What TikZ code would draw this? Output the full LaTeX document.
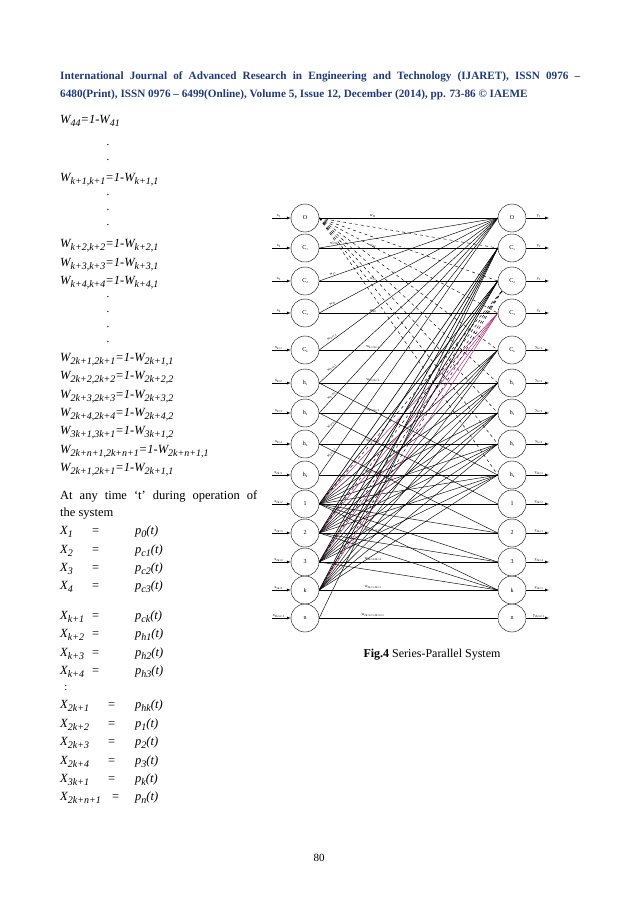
\documentclass[tikz,border=0pt]{standalone}
\usepackage{fontspec}
\setmainfont{Liberation Serif}
\newcommand{\mysub}[1]{\raisebox{-3pt}{\fontsize{10}{10}\selectfont #1}}
\newcommand{\tsub}[1]{\raisebox{-1pt}{\fontsize{3}{3}\selectfont #1}}
\begin{document}
\begin{tikzpicture}[x=1pt,y=-1pt,
 nd/.style={circle,draw,minimum size=28pt,inner sep=0pt,font=\fontsize{6}{6}\selectfont},
 tiny/.style={font=\fontsize{4}{4}\selectfont,inner sep=0.5pt},
 eq/.style={anchor=west,inner sep=0pt,font=\fontsize{12.5}{14}\selectfont\itshape},
 dotn/.style={inner sep=0pt,font=\fontsize{11}{11}\selectfont},
 ln/.style={line width=0.45pt},
 arr/.style={-latex,line width=0.4pt}]
\useasboundingbox (0,0) rectangle (638,903);
\definecolor{hdr}{HTML}{1F3A7A}
\definecolor{mag}{HTML}{B0307A}
% header
\node[anchor=north west,inner sep=0pt,text width=520pt,align=justify,text=hdr,font=\fontsize{11.2}{18}\selectfont\bfseries] (hd) at (60,71)
{International Journal of Advanced Research in Engineering and Technology (IJARET), ISSN 0976 –\linebreak 6480(Print), ISSN 0976 – 6499(Online), Volume 5, Issue 12, December (2014), pp. 73-86 © IAEME};
% equations
\node[eq] (e1) at (60,121) {W\mysub{44}=1-W\mysub{41}};
\foreach \y [count=\i] in {148,163,198,213,228,300,315,330,345}{\node[dotn] (d\i) at (108,\y-3) {.};}
\node[eq] (e2) at (60,180) {W\mysub{k+1,k+1}=1-W\mysub{k+1,1}};
\node[eq] (e3) at (60,246) {W\mysub{k+2,k+2}=1-W\mysub{k+2,1}};
\node[eq] (e4) at (60,265) {W\mysub{k+3,k+3}=1-W\mysub{k+3,1}};
\node[eq] (e5) at (60,283) {W\mysub{k+4,k+4}=1-W\mysub{k+4,1}};
\node[eq] (e6) at (60,360) {W\mysub{2k+1,2k+1}=1-W\mysub{2k+1,1}};
\node[eq] (e7) at (60,378) {W\mysub{2k+2,2k+2}=1-W\mysub{2k+2,2}};
\node[eq] (e8) at (60,397) {W\mysub{2k+3,2k+3}=1-W\mysub{2k+3,2}};
\node[eq] (e9) at (60,415) {W\mysub{2k+4,2k+4}=1-W\mysub{2k+4,2}};
\node[eq] (e10) at (60,433) {W\mysub{3k+1,3k+1}=1-W\mysub{3k+1,2}};
\node[eq] (e11) at (60,452) {W\mysub{2k+n+1,2k+n+1}=1-W\mysub{2k+n+1,1}};
\node[eq] (e12) at (60,470) {W\mysub{2k+1,2k+1}=1-W\mysub{2k+1,1}};
\node[anchor=north west,inner sep=0pt,text width=197pt,align=justify,font=\fontsize{12.5}{17}\selectfont] (at) at (60,490) {At any time ‘t’ during operation of\linebreak the system};
\foreach \y/\a/\b [count=\i] in {532/1/0, 551/2/c1, 569/3/c2, 587/4/c3, 617/k+1/ck, 635/k+2/h1, 654/k+3/h2, 672/k+4/h3, 706/2k+1/hk, 725/2k+2/1, 743/2k+3/2, 762/2k+4/3, 780/3k+1/k, 798/2k+n+1/n}{
 \node[eq] (x\i) at (60,\y) {X\mysub{\a}};
 \node[eq] (p\i) at (135,\y) {p\mysub{\b}(t)};}
\foreach \y [count=\i] in {532,551,569,587,617,635,654,672}{\node[eq,font=\fontsize{12.5}{14}\selectfont] (eq\i) at (92,\y) {=};}
\foreach \y [count=\i] in {706,725,743,762,780}{\node[eq,font=\fontsize{12.5}{14}\selectfont] (eqb\i) at (108,\y) {=};}
\node[eq,font=\fontsize{12.5}{14}\selectfont] (eqn) at (112,798) {=};
\node[dotn] (colon) at (66,688) {:};
\node[font=\fontsize{11}{11}\selectfont] (pg) at (319,858) {80};
\node[font=\fontsize{12}{12}\selectfont] (cap) at (432,655) {\textbf{Fig.4} Series-Parallel System};
% diagram
\def\ys{218,248,281,313,350,383,413,444,475,504,533,562,590,618}
\foreach \t/\xi/\yi [count=\i from 0] in {O/1/1, C\tsub{1}/2/2, C\tsub{2}/3/3, C\tsub{3}/4/4, C\tsub{k}/k+1/k+1, h\tsub{1}/k+2/k+2, h\tsub{2}/k+3/k+3, h\tsub{3}/k+4/k+4, h\tsub{k}/2k+1/2k+1, 1/2k+2/2k+2, 2/2k+3/2k+3, 3/2k+4/2k+4, k/3k+1/3k+1, n/2k+n+1/2k+n+1}{
 \pgfmathsetmacro{\yy}{{\ys}[\i]}
 \node[nd] (L\i) at (305,\yy) {\t};
 \node[nd] (R\i) at (512,\yy) {\t};
 \coordinate (I\i) at (272,\yy);
 \coordinate (O\i) at (549,\yy);
 \draw[arr] (I\i) -- node[tiny,above,pos=0.35] {x\tsub{\xi}} (L\i);
 \draw[arr] (R\i) -- node[tiny,above,pos=0.55] {y\tsub{\yi}} (O\i);
}
% horizontals
\foreach \i/\w in {0/11,1/22,2/33,3/44,4/{k+1,k+1},5/{k+2,k+2},6/{k+3,k+3},7/{k+4,k+4},8/{2k+1,2k+1},9/{2k+2,2k+2},10/{2k+3,2k+3},11/{2k+4,2k+4},12/{3k+1,3k+1},13/{2k+n+1,2k+n+1}}{
 \draw[ln] (L\i) -- node[tiny,above,pos=0.3] {w\tsub{\w}} (R\i);}
% O dashed
\foreach \j in {1,...,8}{\draw[ln,dashed] (L0.east) -- (R\j.west);}
% to right O
\foreach \j/\w in {1/21,2/31,3/41,4/{k+1,1},5/{k+2,1},6/{k+3,1},7/{k+4,1},8/{2k+1,1}}{\draw[ln] (L\j.east) -- node[tiny,above,pos=0.08,sloped] {w\tsub{\w}} (R0.west);}
% lower left bunches
\foreach \i in {9,...,12}{
 \foreach \j in {1,2}{\draw[line width=0.6pt] (L\i.east) -- (R\j.west);}
 \draw[mag,line width=0.5pt] (L\i.east) -- (R3.west);
 \foreach \j in {4,...,8}{\draw[ln] (L\i.east) -- (R\j.west);}
 \draw[ln,dashed] (L\i.east) -- (R2.south west);
}
\draw[ln] (L5.east) -- (R8.west);
\draw[ln] (L6.east) -- (R9.west);
\draw[ln] (L7.east) -- (R10.west);
\draw[ln] (L13.east) -- node[tiny,above,sloped,pos=0.2] {w\tsub{2k+n+1,1}} (R1.west);
\foreach \j in {10,11,12}{\draw[ln] (L9.east) -- (R\j.west);}
\draw[ln] (L10.east) -- (R11.west);
\draw[ln] (L10.east) -- (R12.west);
\draw[ln] (L11.east) -- (R12.west);
\end{tikzpicture}
\end{document}
